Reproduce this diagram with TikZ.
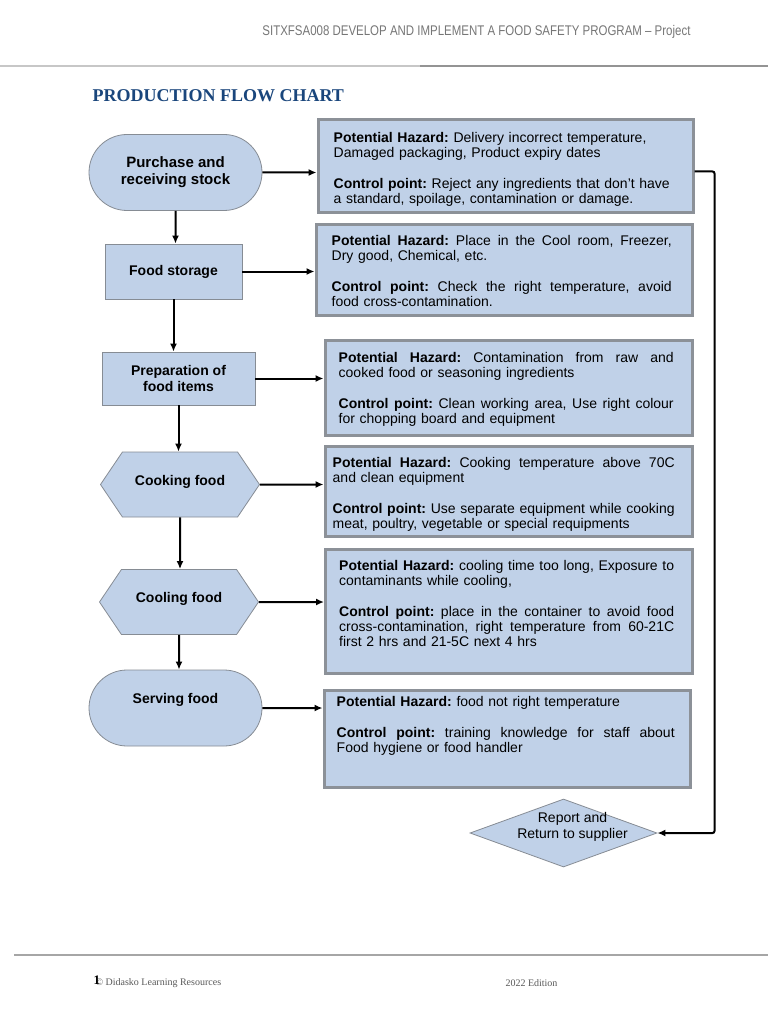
\documentclass[tikz,border=0pt]{standalone}
\usepackage{fontspec}
\usepackage{graphicx}
\setmainfont{Liberation Sans}
\newfontfamily\serifface{Liberation Serif}
\usetikzlibrary{shapes.misc, shapes.symbols, shapes.geometric, arrows.meta, calc}
\definecolor{flowBlue}{RGB}{192, 209, 232}
\definecolor{edgeGrey}{RGB}{134, 140, 148}
\definecolor{frameGrey}{RGB}{140, 145, 152}
\definecolor{titleBlue}{RGB}{26, 70, 124}
\definecolor{headGrey}{RGB}{118, 118, 118}
\newcommand{\fullline}[1]{\makebox[\linewidth][s]{\spaceskip=0.278em plus 1fil\xspaceskip=\spaceskip #1}}

\begin{document}
\begin{tikzpicture}[x=1pt, y=-1pt,
        stadium/.style={rounded rectangle, draw=edgeGrey, fill=flowBlue, line width=0.8pt, minimum width=173pt, minimum height=76pt, inner sep=0pt, align=center, font=\fontsize{14}{16}\selectfont\bfseries},
        stepbox/.style={rectangle, draw=edgeGrey, fill=flowBlue, line width=0.8pt, inner sep=0pt, align=center, font=\fontsize{14}{16}\selectfont\bfseries},
        hexa/.style={signal, signal to=east and west, signal pointer angle=112, draw=edgeGrey, fill=flowBlue, line width=0.8pt, minimum width=159pt, minimum height=65pt, inner sep=0pt, text depth=9pt, font=\fontsize{14}{16}\selectfont\bfseries},
        hazard/.style={rectangle, draw=frameGrey, fill=flowBlue, line width=3pt, inner sep=0pt},
        hztext/.style={anchor=north west, inner sep=0pt, align=left, font=\fontsize{14}{15}\selectfont\frenchspacing},
        flow/.style={-{Latex[length=8pt, width=7pt]}, line width=2pt},
    ]
    \fill[white] (0,0) rectangle (768,1024);
    \useasboundingbox (0,0) rectangle (768,1024);

    % page header and title
    \node[anchor=east, text=headGrey, font=\fontsize{14}{16}\selectfont] (head) at (694,32) {\scalebox{0.82}[1]{SITXFSA008 DEVELOP AND IMPLEMENT A FOOD SAFETY PROGRAM -- Project}};
    \draw[line width=1.5pt, black!22] (0,66) -- (420,66);
    \draw[line width=2pt, black!42] (420,66) -- (768,66);
    \node[anchor=west, text=titleBlue, font=\serifface\fontsize{18}{20}\selectfont\bfseries] (title) at (89,96) {PRODUCTION FLOW CHART};

    % process steps
    \node[stadium, font=\fontsize{15}{17}\selectfont\bfseries] (buy) at (175.5,172.5) {Purchase and\\receiving stock};
    \node[stepbox, minimum width=137pt, minimum height=55pt] (store) at (173.5,271.5) {Food storage};
    \node[stepbox, minimum width=153pt, minimum height=53pt] (prep) at (178.5,378.5) {Preparation of\\food items};
    \node[hexa] (cook) at (180,484.5) {Cooking food};
    \node[hexa] (cool) at (179,602) {Cooling food};
    \node[stadium, text depth=20pt] (serve) at (175.5,708) {Serving food};

    % hazard and control boxes
    \node[hazard, minimum width=375pt, minimum height=93pt] (hz1) at (505.5,166.5) {};
    \node[hazard, minimum width=376pt, minimum height=90pt] (hz2) at (504,270) {};
    \node[hazard, minimum width=367pt, minimum height=95pt] (hz3) at (508.5,387.5) {};
    \node[hazard, minimum width=367pt, minimum height=90pt] (hz4) at (508.5,491) {};
    \node[hazard, minimum width=367pt, minimum height=124pt] (hz5) at (509,611.5) {};
    \node[hazard, minimum width=366pt, minimum height=97pt] (hz6) at (507,738.5) {};

    \node[hztext, text width=345pt] (tx1) at ($(hz1.north west)+(17,14)$) {%
        \textbf{Potential Hazard:} Delivery incorrect temperature,\\
        Damaged packaging, Product expiry dates\\[16pt]
        \textbf{Control point:} Reject any ingredients that don't have\\
        a standard, spoilage, contamination or damage.};
    \node[hztext, text width=340pt] (tx2) at ($(hz2.north west)+(17,12)$) {%
        \fullline{\textbf{Potential Hazard:} Place in the Cool room, Freezer,}\\
        Dry good, Chemical, etc.\\[16pt]
        \fullline{\textbf{Control point:} Check the right temperature, avoid}\\
        food cross-contamination.};
    \node[hztext, text width=335pt] (tx3) at ($(hz3.north west)+(15,14)$) {%
        \fullline{\textbf{Potential Hazard:} Contamination from raw and}\\
        cooked food or seasoning ingredients\\[16pt]
        \fullline{\textbf{Control point:} Clean working area, Use right colour}\\
        for chopping board and equipment};
    \node[hztext, text width=342pt] (tx4) at ($(hz4.north west)+(9,13)$) {%
        \fullline{\textbf{Potential Hazard:} Cooking temperature above 70C}\\
        and clean equipment\\[16pt]
        \fullline{\textbf{Control point:} Use separate equipment while cooking}\\
        meat, poultry, vegetable or special requipments};
    \node[hztext, text width=335pt] (tx5) at ($(hz5.north west)+(15,12)$) {%
        \fullline{\textbf{Potential Hazard:} cooling time too long, Exposure to}\\
        contaminants while cooling,\\[16pt]
        \fullline{\textbf{Control point:} place in the container to avoid food}\\
        \fullline{cross-contamination, right temperature from 60-21C}\\
        first 2 hrs and 21-5C next 4 hrs};
    \node[hztext, text width=338pt] (tx6) at ($(hz6.north west)+(14,8)$) {%
        \textbf{Potential Hazard:} food not right temperature\\[16pt]
        \fullline{\textbf{Control point:} training knowledge for staff about}\\
        Food hygiene or food handler};

    \node[diamond, draw=edgeGrey, fill=flowBlue, line width=0.8pt, aspect=2.7, minimum width=187pt, minimum height=68pt, inner sep=0pt,
        label={[align=center, font=\fontsize{14}{16}\selectfont, xshift=9pt, yshift=6pt]center:Report and\\Return to supplier}] (ret) at (563.5,833) {};

    % connectors
    \draw[flow] (buy) -- (buy |- store.north);
    \draw[flow] (store) -- (store |- prep.north);
    \draw[flow] (prep) -- (prep |- cook.north);
    \draw[flow] (cook) -- (cook |- cool.north);
    \draw[flow] (cool) -- (cool |- serve.north);
    \foreach \s/\h in {buy/hz1, store/hz2, prep/hz3, cook/hz4, cool/hz5, serve/hz6}
        \draw[flow] (\s) -- (\s -| \h.west);
    \draw[flow, rounded corners=2pt] ([yshift=-5pt]hz1.east) -- ++(20,0) |- (ret.east);

    % page footer
    \draw[line width=2pt, black!35] (14,955) -- (768,955);
    \node[anchor=west, text=black!65, font=\serifface\fontsize{10}{12}\selectfont] (copy) at (92,983) {\textcopyright{} Didasko Learning Resources};
    \node[anchor=west, font=\serifface\fontsize{13}{14}\selectfont\bfseries] (page) at (90,980) {1};
    \node[anchor=west, text=black!65, font=\serifface\fontsize{10}{12}\selectfont] (edition) at (502,983) {2022 Edition};
\end{tikzpicture}
\end{document}
